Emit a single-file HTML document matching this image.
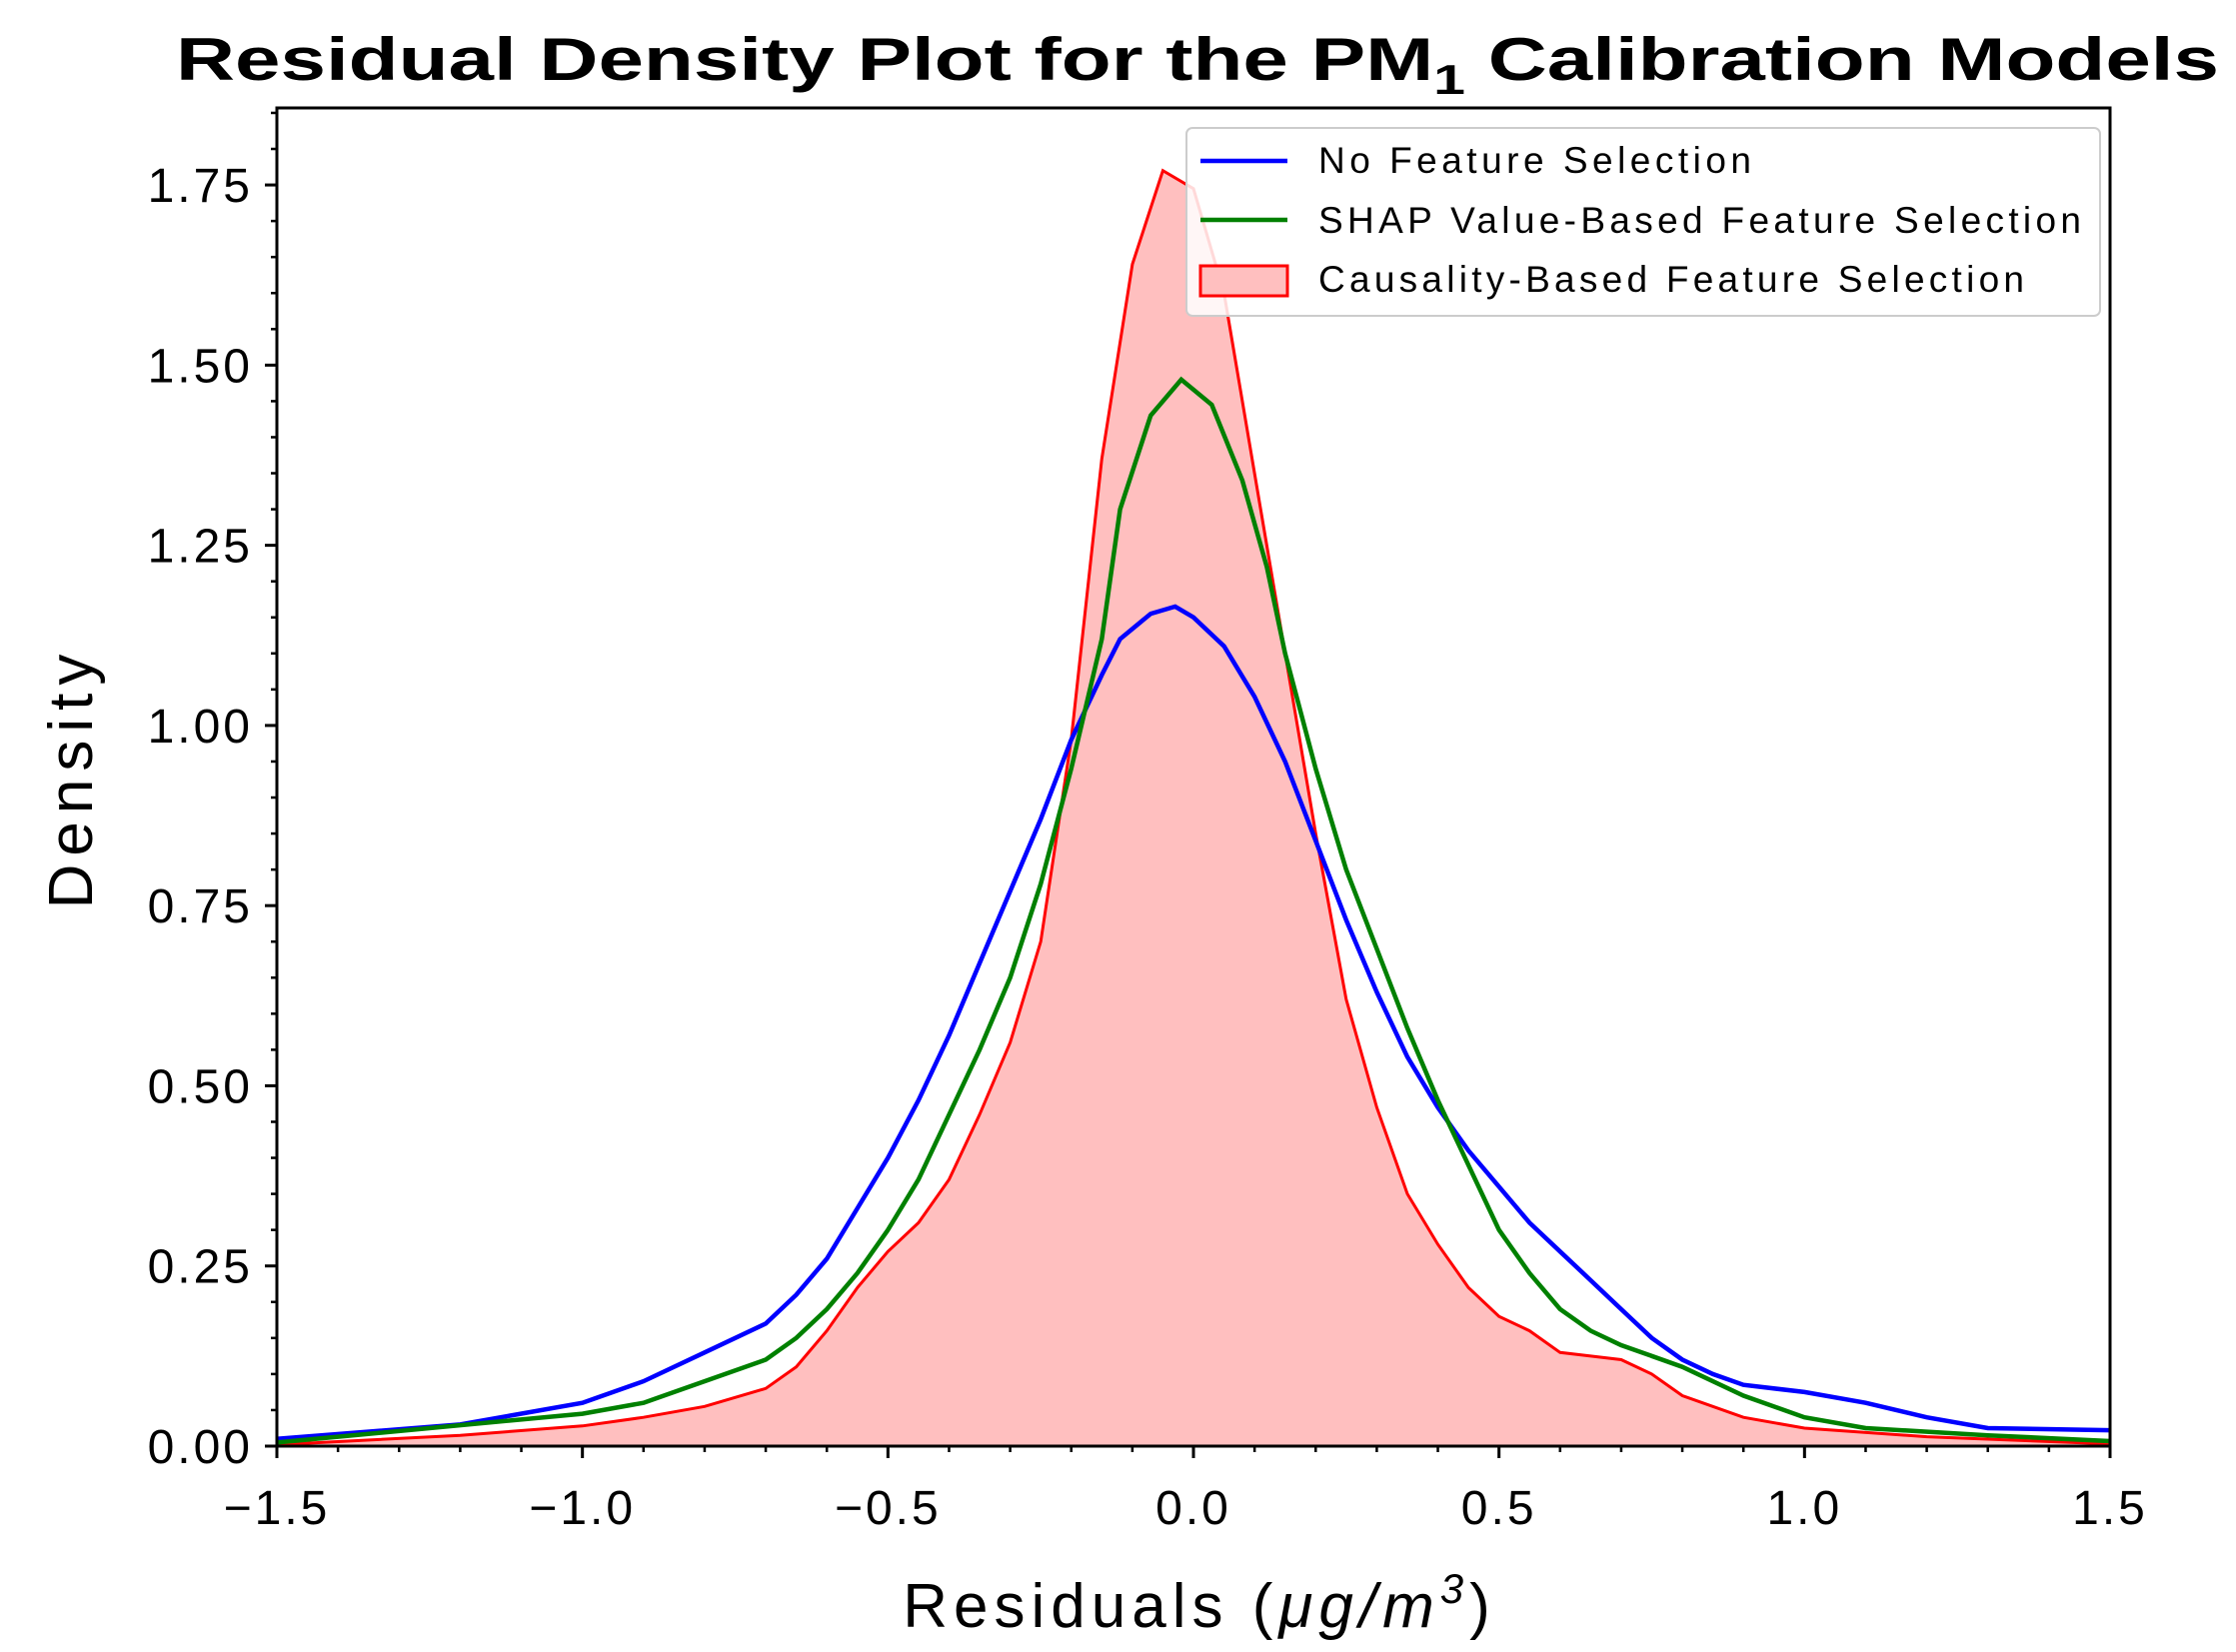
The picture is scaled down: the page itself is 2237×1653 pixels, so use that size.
<!DOCTYPE html><html><head><style>body{margin:0;background:#fff}svg{display:block}text{font-family:"Liberation Sans",sans-serif}</style></head><body>
<svg id="s" width="2237" height="1653" xmlns="http://www.w3.org/2000/svg"></svg>
<script>
const L=277,R=2111,T=108,B=1447;
const X=x=>L+(x+1.5)*(R-L)/3, Y=y=>B-y*721.1;
const blue=[[-1.5,0.01],[-1.2,0.03],[-1.0,0.06],[-0.9,0.09],[-0.8,0.13],[-0.7,0.17],[-0.65,0.21],[-0.6,0.26],[-0.55,0.33],[-0.5,0.4],[-0.45,0.48],[-0.4,0.57],[-0.35,0.67],[-0.3,0.77],[-0.25,0.87],[-0.2,0.98],[-0.15,1.07],[-0.12,1.12],[-0.07,1.155],[-0.03,1.165],[0,1.15],[0.05,1.11],[0.1,1.04],[0.15,0.95],[0.2,0.84],[0.25,0.73],[0.3,0.63],[0.35,0.54],[0.4,0.47],[0.45,0.41],[0.5,0.36],[0.55,0.31],[0.6,0.27],[0.65,0.23],[0.7,0.19],[0.75,0.15],[0.8,0.12],[0.85,0.1],[0.9,0.085],[1.0,0.075],[1.1,0.06],[1.2,0.04],[1.3,0.025],[1.5,0.022]];
const green=[[-1.5,0.005],[-1.0,0.045],[-0.9,0.06],[-0.8,0.09],[-0.7,0.12],[-0.65,0.15],[-0.6,0.19],[-0.55,0.24],[-0.5,0.3],[-0.45,0.37],[-0.4,0.46],[-0.35,0.55],[-0.3,0.65],[-0.25,0.78],[-0.2,0.94],[-0.15,1.12],[-0.12,1.3],[-0.07,1.43],[-0.02,1.48],[0.03,1.445],[0.08,1.34],[0.12,1.22],[0.15,1.1],[0.2,0.94],[0.25,0.8],[0.3,0.69],[0.35,0.58],[0.4,0.48],[0.45,0.39],[0.5,0.3],[0.55,0.24],[0.6,0.19],[0.65,0.16],[0.7,0.14],[0.8,0.11],[0.9,0.07],[1.0,0.04],[1.1,0.025],[1.3,0.015],[1.5,0.007]];
const red=[[-1.5,0.002],[-1.2,0.015],[-1,0.028],[-0.9,0.04],[-0.8,0.055],[-0.7,0.08],[-0.65,0.11],[-0.6,0.16],[-0.55,0.22],[-0.5,0.27],[-0.45,0.31],[-0.4,0.37],[-0.35,0.46],[-0.3,0.56],[-0.25,0.7],[-0.2,0.98],[-0.15,1.37],[-0.1,1.64],[-0.05,1.77],[0,1.745],[0.05,1.6],[0.1,1.35],[0.15,1.1],[0.2,0.85],[0.25,0.62],[0.3,0.47],[0.35,0.35],[0.4,0.28],[0.45,0.22],[0.5,0.18],[0.55,0.16],[0.6,0.13],[0.65,0.125],[0.7,0.12],[0.75,0.1],[0.8,0.07],[0.9,0.04],[1.0,0.025],[1.2,0.013],[1.5,0.003]];
const pts=a=>a.map(p=>X(p[0]).toFixed(1)+','+Y(p[1]).toFixed(1)).join(' ');
let h='';
h+=`<polygon points="${X(-1.5)},${B} ${pts(red)} ${X(1.5)},${B}" fill="#ffbfbf"/>`;
h+=`<polyline points="${pts(red)}" fill="none" stroke="#f00" stroke-width="3"/>`;
h+=`<polyline points="${pts(blue)}" fill="none" stroke="#00f" stroke-width="4.5"/>`;
h+=`<polyline points="${pts(green)}" fill="none" stroke="#008000" stroke-width="4.5"/>`;
h+=`<rect x="${L}" y="${T}" width="${R-L}" height="${B-T}" fill="none" stroke="#000" stroke-width="3"/>`;
for(let i=0;i<=30;i++){let x=X(-1.5+i*0.1);let maj=i%5==0;h+=`<line x1="${x}" y1="${B}" x2="${x}" y2="${B+(maj?12:6)}" stroke="#000" stroke-width="${maj?3:2.5}"/>`;if(maj){let v=-1.5+i*0.1;h+=`<text x="${x}" y="${B+78}" font-size="48" letter-spacing="3" text-anchor="middle">${(v<0?'−':'')+Math.abs(v).toFixed(1)}</text>`;}}
for(let i=0;i<=37;i++){let y=Y(i*0.05);let maj=i%5==0;h+=`<line x1="${L}" y1="${y}" x2="${L-(maj?12:6)}" y2="${y}" stroke="#000" stroke-width="${maj?3:2.5}"/>`;if(maj)h+=`<text x="${L-24}" y="${y+17}" font-size="48" letter-spacing="3" text-anchor="end">${(i*0.05).toFixed(2)}</text>`;}
h+=`<text x="1200" y="1628" font-size="62" letter-spacing="6" text-anchor="middle">Residuals (<tspan font-style="italic">μg/m</tspan><tspan font-size="42" dy="-24" font-style="italic">3</tspan><tspan dy="24">)</tspan></text>`;
h+=`<text transform="translate(92,778) rotate(-90)" font-size="62" letter-spacing="8" text-anchor="middle">Density</text>`;
h+=`<text x="176" y="80" font-size="60" font-weight="bold" textLength="2044" lengthAdjust="spacingAndGlyphs">Residual Density Plot for the PM<tspan font-size="42" dy="14">1</tspan><tspan dy="-14"> Calibration Models</tspan></text>`;
h+=`<rect x="1187" y="128" width="914" height="188" rx="6" fill="#fff" fill-opacity="0.85" stroke="#ccc" stroke-width="2"/>`;
h+=`<line x1="1201" y1="161" x2="1288" y2="161" stroke="#00f" stroke-width="4.5"/><text x="1319" y="173" font-size="37" textLength="433" lengthAdjust="spacing">No Feature Selection</text>`;
h+=`<line x1="1201" y1="220" x2="1288" y2="220" stroke="#008000" stroke-width="4.5"/><text x="1319" y="233" font-size="37" textLength="763" lengthAdjust="spacing">SHAP Value-Based Feature Selection</text>`;
h+=`<rect x="1201" y="266" width="87" height="30" fill="#ffbfbf" stroke="#f00" stroke-width="3"/><text x="1319" y="292" font-size="37" textLength="706" lengthAdjust="spacing">Causality-Based Feature Selection</text>`;
document.getElementById('s').innerHTML=h;
</script></body></html>
